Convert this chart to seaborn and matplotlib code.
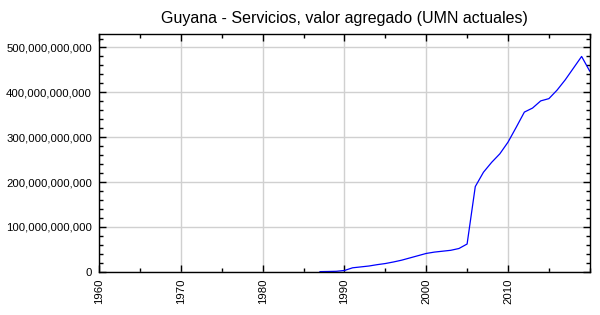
import numpy as np
import pandas as pd
import seaborn as sns
import matplotlib.pyplot as plt
from matplotlib.ticker import MultipleLocator, FuncFormatter

years = list(range(1987, 2021))
values_bn = [0.5, 0.8, 1.2, 3, 9, 11, 13, 16, 18.5, 22, 26, 31, 36, 41,
             44, 46, 48, 52, 62, 190, 222, 244, 263, 289, 322, 356, 365,
             381, 386, 405, 428, 454, 480, 447]
xticks = [1960, 1970, 1980, 1990, 2000, 2010]

df = pd.DataFrame({"year": years, "value": np.array(values_bn) * 1e9})

sns.set_style("white")
plt.rcParams['font.family'] = ['Liberation Sans', 'DejaVu Sans']

fig = plt.figure(figsize=(6, 3.15), dpi=100)
ax = fig.add_axes([0.165, 0.137, 0.818, 0.755])

sns.lineplot(x="year", y="value", data=df, color="#0000ff", linewidth=0.9, ax=ax)

ax.set_xlim(1960, 2020)
ax.set_ylim(0, 530e9)
ax.set_xticks(xticks)
ax.xaxis.set_minor_locator(MultipleLocator(5))
ax.yaxis.set_major_locator(MultipleLocator(100e9))
ax.yaxis.set_minor_locator(MultipleLocator(20e9))
ax.yaxis.set_major_formatter(FuncFormatter(lambda v, p: f"{int(v):,}"))

ax.grid(True, which="major", color="#d0d0d0", linewidth=1)
ax.tick_params(which="both", direction="in", top=True, right=True,
               bottom=True, left=True, labelsize=8.2, colors="black")
ax.tick_params(which="major", length=5, width=1, pad=5)
ax.tick_params(which="minor", length=3, width=1)
plt.setp(ax.get_xticklabels(), rotation=90)
for s in ax.spines.values():
    s.set_color("black")
    s.set_linewidth(1)

ax.set_xlabel("")
ax.set_ylabel("")
ax.set_title("Guyana - Servicios, valor agregado (UMN actuales)",
             fontsize=11.5, pad=8, color="black")

fig.savefig("out.png", dpi=100)
